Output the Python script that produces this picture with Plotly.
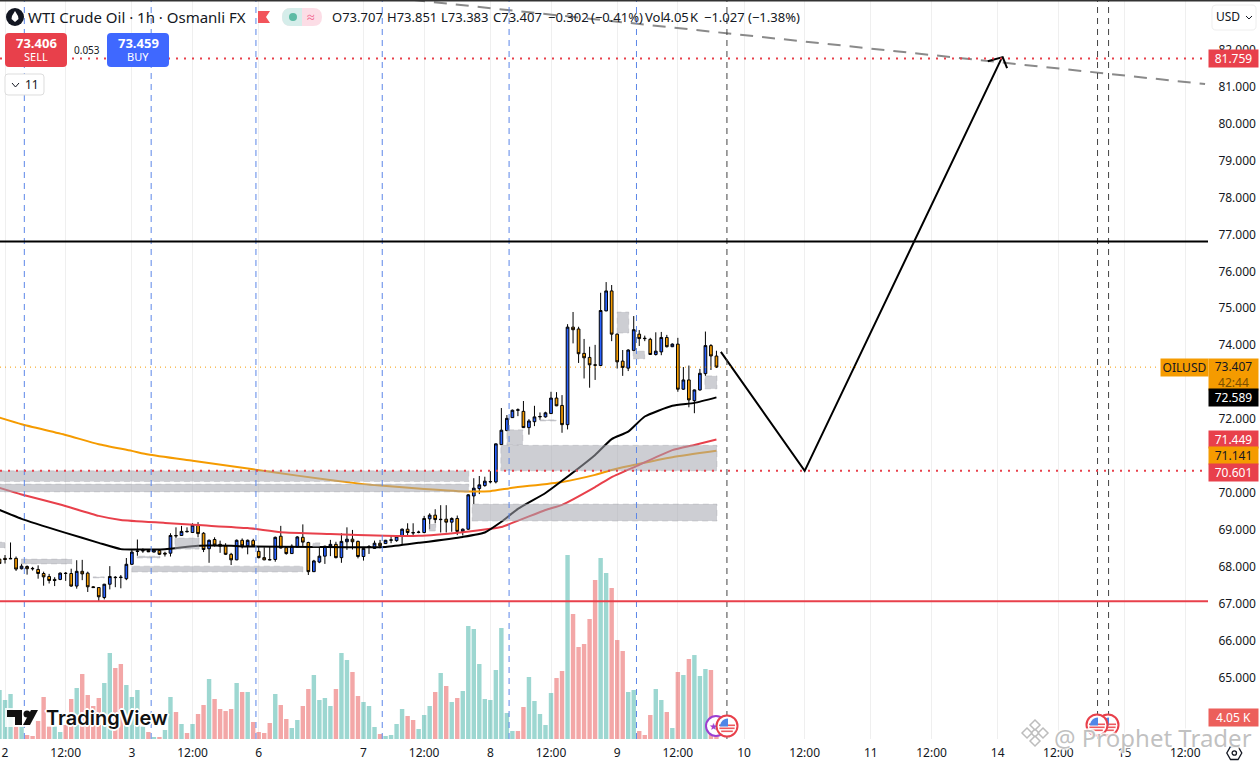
# WTI Crude Oil 1h chart, TradingView look

import math
import plotly.graph_objects as go

# Candles, one hour each, oldest first
bar_open = [68.21, 68.23, 68.23, 68.23, 67.95, 68.01, 67.96, 67.93, 67.82, 67.74, 67.66, 67.66, 67.83, 67.82, 67.48, 67.88,
            67.83, 67.46, 67.44, 67.17, 67.53, 67.72, 67.71, 67.68, 68.07, 68.43, 68.43, 68.44, 68.40, 68.44, 68.37, 68.37,
            68.85, 68.85, 68.95, 68.93, 69.12, 68.91, 68.49, 68.74, 68.61, 68.57, 68.34, 68.19, 68.72, 68.57, 68.71, 68.42,
            68.25, 68.20, 68.20, 68.83, 68.52, 68.36, 68.54, 68.80, 68.66, 67.87, 68.13, 68.29, 68.54, 68.61, 68.25, 68.68,
            68.75, 68.69, 68.28, 68.54, 68.50, 68.64, 68.63, 68.72, 68.71, 68.83, 69.02, 68.93, 68.93, 68.93, 69.30, 69.40,
            69.29, 69.29, 69.21, 69.31, 68.96, 69.02, 69.92, 70.12, 70.20, 70.30, 70.30, 71.31, 71.69, 72.04, 72.24, 72.21,
            71.77, 71.93, 72.06, 72.06, 72.15, 72.57, 72.37, 71.85, 74.49, 74.44, 73.78, 73.67, 73.47, 73.45, 74.93, 75.47,
            74.30, 73.57, 73.38, 73.86, 74.30, 74.19, 74.16, 73.75, 73.82, 74.21, 73.96, 74.03, 72.81, 73.06, 72.50, 72.79,
            73.23, 73.99, 73.707]
bar_high = [68.26, 68.32, 68.66, 68.28, 68.08, 68.04, 68.00, 68.04, 67.87, 67.81, 67.72, 67.85, 67.86, 67.95, 68.18, 68.19,
            67.87, 67.48, 67.45, 67.54, 68.02, 67.75, 67.78, 68.24, 68.46, 68.74, 68.50, 68.45, 68.46, 68.48, 68.41, 68.91,
            69.07, 69.11, 69.07, 69.18, 69.21, 68.94, 68.74, 68.80, 68.71, 68.64, 68.38, 68.74, 68.77, 68.74, 68.76, 68.55,
            68.53, 68.55, 68.82, 69.11, 68.53, 68.61, 68.83, 69.15, 68.68, 68.19, 68.53, 68.57, 68.73, 68.68, 68.91, 69.07,
            69.00, 68.71, 68.53, 68.59, 68.71, 68.73, 68.73, 68.85, 68.85, 69.04, 69.18, 69.18, 68.98, 69.38, 69.45, 69.56,
            69.67, 69.67, 69.34, 69.39, 69.04, 69.97, 70.40, 70.46, 70.44, 70.59, 71.34, 72.30, 72.11, 72.26, 72.29, 72.49,
            72.00, 72.36, 72.18, 72.20, 72.74, 72.73, 72.65, 74.57, 74.90, 74.50, 74.17, 73.96, 74.01, 75.42, 75.71, 75.63,
            74.32, 73.87, 73.89, 74.79, 74.41, 74.26, 74.20, 74.35, 74.36, 74.28, 74.05, 74.20, 73.41, 73.45, 72.80, 73.36,
            74.37, 74.03, 73.851]
bar_low = [68.08, 68.09, 68.21, 67.89, 67.93, 67.79, 67.90, 67.68, 67.49, 67.55, 67.48, 67.64, 67.62, 67.46, 67.41, 67.64,
           67.32, 67.43, 67.07, 67.12, 67.39, 67.45, 67.42, 67.64, 68.05, 68.30, 68.38, 68.40, 68.39, 68.32, 68.28, 68.28,
           68.78, 68.84, 68.93, 68.92, 68.80, 68.40, 68.11, 68.55, 68.38, 68.32, 68.05, 68.18, 68.50, 68.34, 68.56, 68.23,
           68.18, 68.18, 68.14, 68.50, 68.33, 68.35, 68.53, 68.55, 67.78, 67.86, 68.10, 68.08, 68.29, 68.23, 68.11, 68.46,
           68.47, 68.23, 68.17, 68.35, 68.49, 68.50, 68.62, 68.64, 68.68, 68.59, 68.82, 68.82, 68.91, 68.91, 69.02, 69.18,
           68.93, 68.93, 68.95, 68.86, 68.85, 69.00, 69.70, 69.97, 70.17, 70.26, 70.26, 71.30, 71.67, 72.03, 72.08, 71.76,
           71.58, 71.81, 71.98, 72.04, 72.14, 72.35, 71.63, 71.72, 74.05, 73.52, 73.10, 72.85, 73.06, 73.44, 74.92, 74.11,
           73.37, 73.17, 73.30, 73.84, 73.98, 74.11, 73.74, 73.72, 73.73, 73.94, 73.95, 72.74, 72.79, 72.32, 72.16, 72.77,
           73.17, 73.33, 73.383]
bar_close = [68.09, 68.20, 68.22, 67.94, 68.02, 67.95, 67.95, 67.82, 67.73, 67.63, 67.63, 67.83, 67.82, 67.48, 67.88, 67.81,
             67.46, 67.44, 67.19, 67.53, 67.74, 67.71, 67.72, 68.07, 68.40, 68.42, 68.44, 68.41, 68.45, 68.34, 68.35, 68.85,
             68.84, 68.96, 68.96, 69.13, 68.90, 68.47, 68.72, 68.59, 68.56, 68.34, 68.19, 68.72, 68.57, 68.72, 68.57, 68.25,
             68.19, 68.19, 68.80, 68.51, 68.36, 68.56, 68.81, 68.67, 67.87, 68.16, 68.29, 68.56, 68.61, 68.25, 68.69, 68.75,
             68.68, 68.28, 68.50, 68.55, 68.64, 68.57, 68.72, 68.73, 68.83, 69.02, 68.93, 68.92, 68.94, 69.31, 69.40, 69.28,
             69.28, 69.21, 69.31, 68.96, 69.02, 69.95, 70.13, 70.22, 70.32, 70.31, 71.33, 71.70, 72.02, 72.24, 72.25, 71.77,
             71.95, 72.06, 72.07, 72.17, 72.57, 72.36, 71.85, 74.49, 74.42, 73.77, 73.66, 73.47, 73.46, 74.94, 75.47, 74.30,
             73.55, 73.40, 73.87, 74.42, 74.18, 74.18, 73.75, 73.84, 74.21, 73.96, 74.03, 72.81, 73.06, 72.52, 72.79, 73.24,
             73.99, 73.71, 73.407]

# Volume in thousands, 1 = up bar, 0 = down bar
volume_k = [9.44, 7.51, 8.67, 2.38, 2.38, 0.77, 0.58, 3.47, 8.09, 2.38, 2.38, 1.35, 2.70, 7.71, 9.83, 12.52,
            8.48, 6.36, 7.90, 10.79, 16.57, 13.68, 14.45, 10.40, 8.09, 9.44, 2.38, 1.35, 0.39, 0.39, 1.73, 8.09,
            5.20, 2.89, 1.16, 2.89, 4.82, 6.55, 11.56, 7.71, 5.78, 5.39, 5.78, 10.79, 9.06, 9.06, 3.28, 1.35,
            1.16, 3.08, 8.67, 6.55, 3.85, 2.12, 3.66, 6.36, 9.63, 12.33, 7.51, 7.90, 6.36, 9.63, 16.57, 15.22,
            12.91, 8.29, 7.13, 6.36, 2.31, 0.96, 0.58, 0.77, 2.89, 5.78, 4.43, 3.66, 1.93, 4.62, 6.36, 9.06,
            12.72, 10.21, 7.13, 7.90, 9.25, 21.77, 21.19, 14.45, 7.71, 7.51, 13.29, 21.39, 5.01, 1.54, 1.54, 6.17,
            11.95, 7.32, 4.82, 2.70, 8.86, 11.75, 13.10, 35.45, 24.08, 17.73, 18.30, 23.12, 30.64, 34.87, 31.98, 29.09,
            19.07, 16.96, 9.06, 9.44, 1.54, 0.77, 4.62, 9.63, 7.51, 5.20, 2.12, 12.91, 12.33, 15.41, 16.18, 12.14,
            13.49, 13.29, 4.05]
volume_up = [1, 1, 1, 0, 1, 0, 0, 0, 0, 0, 1, 1, 0, 0, 1, 0, 0, 0, 0, 1, 1, 0, 0, 1, 1, 1, 1, 0, 1, 0, 1, 1,
             0, 1, 0, 1, 0, 0, 1, 0, 0, 0, 0, 1, 0, 1, 0, 0, 0, 0, 1, 0, 0, 1, 1, 0, 0, 1, 1, 1, 1, 0, 1, 1,
             0, 0, 1, 1, 1, 0, 1, 1, 1, 1, 0, 0, 1, 1, 1, 0, 1, 0, 1, 0, 1, 1, 1, 1, 1, 1, 1, 1, 1, 1, 0, 0,
             1, 1, 1, 1, 1, 0, 0, 1, 0, 0, 0, 0, 0, 1, 1, 0, 0, 0, 1, 1, 0, 0, 0, 1, 1, 0, 1, 0, 1, 0, 1, 1,
             1, 0, 0]

# Moving averages, read at the bars where the curve bends
ma_black_x = [0, 4, 12, 18, 22, 24, 30, 36, 42, 45, 57, 70, 76, 84, 88, 91, 94, 99, 102, 108, 111, 114, 117, 122, 126, 130]
ma_black_y = [69.54, 69.30, 68.92, 68.65, 68.48, 68.47, 68.48, 68.57, 68.57, 68.55, 68.54, 68.54, 68.65, 68.81, 68.93,
              69.22, 69.57, 70.00, 70.33, 71.03, 71.46, 71.66, 72.07, 72.36, 72.44, 72.589]
ma_red_x = [0, 4, 11, 18, 22, 30, 36, 45, 51, 60, 70, 76, 84, 89, 91, 99, 102, 108, 111, 116, 122, 126, 130]
ma_red_y = [70.14, 69.96, 69.69, 69.38, 69.27, 69.19, 69.13, 69.05, 68.94, 68.89, 68.84, 68.84, 68.94, 69.03, 69.08,
            69.54, 69.68, 70.16, 70.43, 70.76, 71.16, 71.30, 71.449]
ma_orange_x = [0, 4, 12, 18, 24, 27, 35, 46, 54, 66, 69, 77, 85, 89, 93, 102, 108, 111, 116, 122, 130]
ma_orange_y = [72.04, 71.86, 71.57, 71.32, 71.14, 71.04, 70.87, 70.64, 70.47, 70.24, 70.20, 70.11, 70.04, 70.05, 70.14,
               70.30, 70.49, 70.62, 70.79, 70.97, 71.141]

# Gray zones: first bar, last bar, top price, bottom price
zone_x0 = [-1, -1, 85.7, 90.9, 92, 112, 114.9, 127.9, 98, 3.9, -1, 31.8, 24, 24.9, 17, 56.8, 77.9]
zone_x1 = [85.1, 85.1, 130.1, 130.1, 94.9, 114.1, 117, 130.1, 101, 13.1, 1, 36.2, 55, 29.1, 19, 58.1, 79.1]
zone_top = [70.60, 70.24, 69.70, 71.29, 71.71, 74.90, 73.84, 73.17, 71.98, 68.21, 68.67, 68.78, 68.02, 68.29, 67.73, 68.65, 69.16]
zone_bottom = [70.31, 70.03, 69.24, 70.60, 71.30, 74.33, 73.63, 72.82, 71.95, 68.08, 68.51, 68.48, 67.86, 68.24, 67.70, 68.54, 68.97]

# Drawn projection path and its arrow head
path_x = [130.8, 146, 181.8]
path_y = [73.82, 70.60, 81.80]
head_x = [179.2, 181.9, 182.7]
head_y = [81.69, 81.80, 81.50]
trend_x = [74.8, 218.6]
trend_y = [83.35, 81.07]

# Vertical and horizontal levels
session_lines = [4.5, 27.5, 46.5, 69.4, 92.4, 115.5]
event_lines = [131.9, 199.1, 201.1]
level_black = 76.81
level_red = 67.07
level_dotted = [81.759, 70.601]
last_price = 73.407

# Axis ticks, 71 and 73 sit hidden behind the price tags
tick_x = [1, 12, 24, 35, 47, 66, 77, 89, 100, 112, 123, 135, 146, 158, 169, 181, 192, 204, 215]
tick_x_text = ["2", "12:00", "3", "12:00", "6", "7", "12:00", "8", "12:00", "9", "12:00", "10",
               "12:00", "11", "12:00", "14", "12:00", "15", "12:00"]
tick_price = [65, 66, 67, 68, 69, 70, 72, 74, 75, 76, 77, 78, 79, 80, 81, 82]

WIDTH, HEIGHT = 1260, 761
PLOT_W, PLOT_H = 1208, 739
FONT = "Noto Sans"
INK = "#131722"
RED = "#E8404B"
ORANGE = "#F59B00"


def fx(x):
    return x / PLOT_W


def fy(y):
    return 1 - y / PLOT_H


def poly(points):
    return "M" + " L".join(f"{fx(x):.5f},{fy(y):.5f}" for x, y in points) + " Z"


def round_rect(x0, y0, x1, y1, r):
    a, b, c, d = fx(x0), fy(y0), fx(x1), fy(y1)
    rx, ry = r / PLOT_W, r / PLOT_H
    return (f"M{a + rx:.5f},{b:.5f} L{c - rx:.5f},{b:.5f} Q{c:.5f},{b:.5f} {c:.5f},{b - ry:.5f} "
            f"L{c:.5f},{d + ry:.5f} Q{c:.5f},{d:.5f} {c - rx:.5f},{d:.5f} "
            f"L{a + rx:.5f},{d:.5f} Q{a:.5f},{d:.5f} {a:.5f},{d + ry:.5f} "
            f"L{a:.5f},{b - ry:.5f} Q{a:.5f},{b:.5f} {a + rx:.5f},{b:.5f} Z")


shapes = []
notes = []


def ui_shape(path, fill="rgba(0,0,0,0)", line="rgba(0,0,0,0)", width=0):
    shapes.append(dict(type="path", xref="paper", yref="paper", path=path, fillcolor=fill,
                       line=dict(color=line, width=width), layer="above"))


def ui_circle(cx, cy, r, fill, line="rgba(0,0,0,0)", width=0):
    shapes.append(dict(type="circle", xref="paper", yref="paper", x0=fx(cx - r), x1=fx(cx + r),
                       y0=fy(cy + r), y1=fy(cy - r), fillcolor=fill,
                       line=dict(color=line, width=width), layer="above"))


def ui_text(x, y, text, size=13, color=INK, anchor="left", family=FONT, **extra):
    font = dict(family=family, size=size, color=color)
    font.update(extra.pop("font_extra", {}))
    notes.append(dict(xref="paper", yref="paper", x=fx(x), y=fy(y), text=text, showarrow=False,
                      xanchor=anchor, yanchor="middle", font=font, borderpad=0, **extra))


def price_tag(text, value, bg, fg="white", yshift=0, height=17, yref="y2"):
    notes.append(dict(xref="paper", yref=yref, x=1, y=value, text=text, showarrow=False, xanchor="left",
                      yanchor="middle", xshift=0, yshift=yshift, bgcolor=bg, width=49, height=height,
                      align="center", font=dict(family=FONT, size=12, color=fg), borderpad=0))


def flag_icon(cx, cy):
    ui_circle(cx, cy, 10.5, "white", RED, 2)
    r = 8
    steps = [(r * math.cos(math.radians(a)), r * math.sin(math.radians(a))) for a in range(180, 271, 15)]
    for dy in (-1.5, 1.5, 4.5):
        half = math.sqrt(r * r - (dy + 1) ** 2)
        ui_shape(poly([(cx - half, cy + dy), (cx + half, cy + dy), (cx + half, cy + dy + 1.6), (cx - half, cy + dy + 1.6)]),
                 fill="#EE5A5F")
    ui_shape(poly([(cx + 1, cy + 0.5)] + [(cx + 1 + a, cy + 0.5 + b) for a, b in steps]), fill="#4F86E8")


# Zones, levels and event lines
for x0, x1, top, bottom in zip(zone_x0, zone_x1, zone_top, zone_bottom):
    shapes.append(dict(type="rect", xref="x", yref="y2", x0=x0, x1=x1, y0=bottom, y1=top,
                       fillcolor="rgba(164,166,174,0.55)", layer="above",
                       line=dict(color="rgba(150,150,155,0.3)", width=1, dash="6px,4px")))
for x in session_lines:
    shapes.append(dict(type="line", xref="x", yref="paper", x0=x, x1=x, y0=0, y1=1, layer="above",
                       line=dict(color="#5B86E8", width=1, dash="6px,5px")))
for x in event_lines:
    shapes.append(dict(type="line", xref="x", yref="paper", x0=x, x1=x, y0=0, y1=1, layer="above",
                       line=dict(color="#444444", width=1, dash="6px,5px")))
for price in level_dotted:
    shapes.append(dict(type="line", xref="paper", yref="y2", x0=0, x1=1, y0=price, y1=price, layer="above",
                       line=dict(color=RED, width=2, dash="2px,6px")))
shapes.append(dict(type="line", xref="paper", yref="y2", x0=0, x1=fx(1160), y0=last_price, y1=last_price,
                   layer="above", line=dict(color=ORANGE, width=1, dash="1px,4px")))
shapes.append(dict(type="line", xref="paper", yref="y2", x0=0, x1=1, y0=level_black, y1=level_black,
                   layer="above", line=dict(color="black", width=2)))
shapes.append(dict(type="line", xref="paper", yref="y2", x0=0, x1=1, y0=level_red, y1=level_red,
                   layer="above", line=dict(color=RED, width=2)))

# Header row
ui_shape(poly([(0, 0), (WIDTH, 0), (WIDTH, 1.5), (0, 1.5)]), fill="#333333")
ui_circle(15, 17, 9, "#131722")
ui_shape(poly([(15, 11), (18, 16), (18.5, 19), (15, 22), (11.5, 19), (12, 16)]), fill="white")
ui_text(27, 17, "WTI Crude Oil · 1h · Osmanli FX", size=15)
ui_shape(poly([(258, 11), (270, 11), (266, 17), (270, 23), (258, 23)]), fill="#F2545B")
ui_shape(round_rect(282, 8, 322, 26, 9), fill="#FCDDE6")
ui_shape(f"M{fx(302):.5f},{fy(8):.5f} L{fx(291):.5f},{fy(8):.5f} Q{fx(282):.5f},{fy(8):.5f} {fx(282):.5f},{fy(17):.5f} "
         f"Q{fx(282):.5f},{fy(26):.5f} {fx(291):.5f},{fy(26):.5f} L{fx(302):.5f},{fy(26):.5f} Z", fill="#D5EDEA")
ui_circle(293, 17, 4, "#5CBBA4")
ui_text(311, 17, "≈", size=14, color="#F2608A", anchor="center")
for x, label in [(331, "O73.707"), (386, "H73.851"), (440, "L73.383"), (492, "C73.407"), (547, "−0.302"),
                 (590, "(−0.41%)"), (644, "Vol"), (662, "4.05"), (689, "K"), (703, "−1.027"), (747, "(−1.38%)")]:
    ui_text(x, 17, label, size=13)

# Sell and buy buttons
ui_shape(round_rect(5, 33, 67, 67, 4), fill=RED)
ui_shape(round_rect(107, 33, 169, 67, 4), fill="#3F68FF")
ui_text(36, 43, "<b>73.406</b>", size=13, color="white", anchor="center")
ui_text(36, 57, "SELL", size=11, color="white", anchor="center")
ui_text(138, 43, "<b>73.459</b>", size=13, color="white", anchor="center")
ui_text(138, 57, "BUY", size=11, color="white", anchor="center")
ui_text(87, 50, "0.053", size=10, anchor="center")
ui_shape(round_rect(5, 74, 44, 95, 3), fill="white", line="#DDDDDD", width=1)
ui_shape(f"M{fx(12):.5f},{fy(83):.5f} L{fx(15.5):.5f},{fy(87):.5f} L{fx(19):.5f},{fy(83):.5f}", line=INK, width=1)
ui_text(32, 85, "11", size=12, anchor="center")

# Currency button and settings icon
ui_shape(round_rect(1212, 5, 1256, 30, 4), fill="white", line="#EEEEEE", width=1)
ui_text(1215, 17, "USD", size=12)
ui_shape(f"M{fx(1246):.5f},{fy(16):.5f} L{fx(1249):.5f},{fy(19):.5f} L{fx(1252):.5f},{fy(16):.5f}", line=INK, width=1)
hexagon = [(1234.3 + 7.5 * math.cos(math.radians(a)), 753 + 7.5 * math.sin(math.radians(a))) for a in range(0, 360, 60)]
ui_shape(poly(hexagon), line=INK, width=1.3)
ui_circle(1234.3, 753, 2.2, "white", INK, 1.3)

# Event markers
ui_circle(716, 726, 10, "white", "#9C3FD0", 2)
ui_text(713, 726, "★", size=10, color="#9C3FD0", anchor="center")
flag_icon(727, 726)
flag_icon(1108, 725)
flag_icon(1097, 725)

# TradingView logo
halo = "1px 1px 0 #fff,-1px -1px 0 #fff,1px -1px 0 #fff,-1px 1px 0 #fff,2px 0 0 #fff,-2px 0 0 #fff,0 2px 0 #fff,0 -2px 0 #fff"
ui_shape(poly([(5, 708), (41, 708), (33, 727), (5, 727)]), fill="rgba(255,255,255,0.85)")
ui_shape(poly([(7, 710), (22, 710), (22, 725), (15, 725), (15, 717), (7, 717)]), fill="#111111")
ui_circle(27, 714, 3.5, "#111111")
ui_shape(poly([(31, 710), (38, 710), (30, 725), (23, 725)]), fill="#111111")
ui_text(45, 718, "TradingView", size=20, color="#111111", family="Inter", font_extra=dict(weight=600, shadow=halo))

# Watermark
for dx, dy in [(0, 0), (0, -8), (0, 8), (-8, 0), (8, 0)]:
    size = 5 if dx or dy else 4
    ui_shape(poly([(1035 + dx, 733 + dy - size), (1035 + dx + size, 733 + dy), (1035 + dx, 733 + dy + size),
                   (1035 + dx - size, 733 + dy)]), fill="rgba(255,255,255,0.7)", line="#BDBDBD", width=1.5)
ui_text(1053, 737, "@ Prophet Trader", size=24, color="rgba(140,140,140,0.55)", font_extra=dict(shadow=halo))

# Tags on the price scale
price_tag("81.759", 81.759, RED)
price_tag("73.407<br><span style='color:#7A4E00'>42:44</span>", 73.407, ORANGE, fg=INK, yshift=-7.5, height=31)
price_tag("72.589", 72.589, "black")
price_tag("71.449", 71.449, RED)
price_tag("71.141", 71.141, ORANGE, fg=INK, yshift=-5)
price_tag("70.601", 70.601, RED, yshift=-2)
price_tag("4.05 K", 4.05, "#EC5F5B", yref="y")
notes.append(dict(xref="paper", yref="y2", x=fx(1160), y=last_price, text="OILUSD", showarrow=False, xanchor="left",
                  yanchor="middle", bgcolor=ORANGE, width=47, height=17, borderpad=0,
                  font=dict(family=FONT, size=12, color=INK)))

fig = go.Figure()

bar_x = list(range(len(bar_open)))
ma_line = dict(width=2, shape="spline", smoothing=0.5)
fig.add_trace(go.Bar(x=bar_x, y=volume_k, yaxis="y",
                     marker=dict(color=["rgba(38,166,154,0.45)" if up else "rgba(232,80,80,0.5)" for up in volume_up],
                                 line=dict(width=0))))
fig.add_trace(go.Scatter(x=ma_orange_x, y=ma_orange_y, yaxis="y2", mode="lines", line=dict(color=ORANGE, **ma_line)))
fig.add_trace(go.Scatter(x=ma_red_x, y=ma_red_y, yaxis="y2", mode="lines", line=dict(color=RED, **ma_line)))
fig.add_trace(go.Scatter(x=ma_black_x, y=ma_black_y, yaxis="y2", mode="lines", line=dict(color="black", **ma_line)))
fig.add_trace(go.Candlestick(x=bar_x, open=bar_open, high=bar_high, low=bar_low, close=bar_close, yaxis="y2",
                             whiskerwidth=0,
                             increasing=dict(line=dict(color="black", width=1), fillcolor="#2962FF"),
                             decreasing=dict(line=dict(color="black", width=1), fillcolor=ORANGE)))
fig.add_trace(go.Scatter(x=trend_x, y=trend_y, yaxis="y2", mode="lines",
                         line=dict(color="#8A8A8A", width=2, dash="13px,9px")))
fig.add_trace(go.Scatter(x=path_x, y=path_y, yaxis="y2", mode="lines", line=dict(color="black", width=2)))
fig.add_trace(go.Scatter(x=head_x, y=head_y, yaxis="y2", mode="lines", line=dict(color="black", width=2)))

fig.update_layout(
    width=WIDTH, height=HEIGHT, margin=dict(l=0, r=WIDTH - PLOT_W, t=0, b=HEIGHT - PLOT_H, pad=0),
    paper_bgcolor="white", plot_bgcolor="white", showlegend=False, bargap=0.2,
    font=dict(family=FONT, size=12, color=INK), shapes=shapes, annotations=notes,
    xaxis=dict(range=[0.09, 219.13], tickmode="array", tickvals=tick_x, ticktext=tick_x_text, showgrid=True,
               gridcolor="#EFEFEF", gridwidth=1, zeroline=False, ticks="outside", ticklen=3, tickcolor="white",
               showline=False, automargin=False, rangeslider=dict(visible=False), tickfont=dict(size=12, color=INK)),
    yaxis=dict(range=[0, PLOT_H / 5.19], visible=False, fixedrange=True, automargin=False),
    yaxis2=dict(range=[63.34, 83.346], overlaying="y", side="right", tickmode="array", tickvals=tick_price,
                tickformat=".3f", showgrid=False, zeroline=False, ticks="outside", ticklen=7, tickcolor="white",
                showline=False, automargin=False, tickfont=dict(size=12, color=INK)),
)

fig.write_html("out.html", config={"displayModeBar": False},
               post_script="document.body.style.margin='0';document.body.style.overflow='hidden';")
